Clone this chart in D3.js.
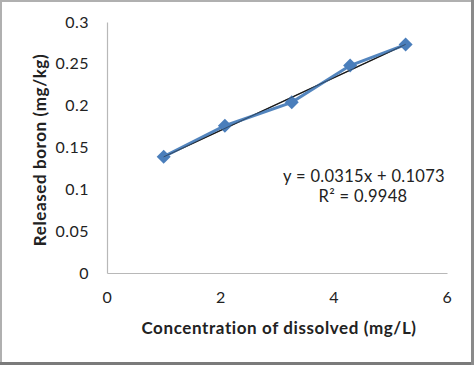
<!doctype html>
<html>
 <head>
  <meta charset='utf-8'>
  <title>Released boron</title>
  <script src='https://cdn.jsdelivr.net/npm/d3@7/dist/d3.min.js'></script>
  <style>
    html,body{margin:0;padding:0;background:#fff;}
    svg{display:block;}
    text{font-family:Lato,'Open Sans',sans-serif;fill:#222;}
  </style>
 </head>
 <body>
  <div id='chart'></div>
  <script>
    // data
    var concentration = [1.0, 2.08, 3.26, 4.29, 5.27]
    var boron         = [0.139, 0.176, 0.204, 0.248, 0.273]
    var xTicks        = [0, 2, 4, 6]
    var yTicks        = [0, 0.05, 0.1, 0.15, 0.2, 0.25, 0.3]
    var trend         = {slope:0.0315, intercept:0.1073, r2:'0.9948'}

    var W = 474, H = 365
    var svg = d3.select('#chart').append('svg')
        .attr('width',W).attr('height',H)

    // frame
    svg.append('rect').attr('x',1).attr('y',1).attr('width',W-2).attr('height',H-2)
       .attr('fill','#fff').attr('stroke','#b0b0b0').attr('stroke-width',2)
    svg.append('line').attr('x1',0).attr('x2',W).attr('y1',H-1.5).attr('y2',H-1.5)
       .attr('stroke','#7a7a7a').attr('stroke-width',3)
    svg.append('line').attr('x1',W-1.5).attr('x2',W-1.5).attr('y1',0).attr('y2',H)
       .attr('stroke','#8a8a8a').attr('stroke-width',3)

    var x = d3.scaleLinear().domain([0,6]).range([107,447])
    var y = d3.scaleLinear().domain([0,0.3]).range([273,22])

    // axes
    svg.append('g').attr('transform','translate(0,'+y(0)+')')
       .call(d3.axisBottom(x).tickValues(xTicks).tickSize(0).tickPadding(19).tickFormat(d3.format('d')))
    svg.append('g').attr('transform','translate('+x(0)+',0)')
       .call(d3.axisLeft(y).tickValues(yTicks).tickSize(0).tickPadding(18).tickFormat(function(d){ return String(+d.toFixed(2)) }))
    svg.selectAll('.domain').attr('stroke','#b8b8b8').attr('stroke-width',1.2)
    svg.selectAll('.tick text').style('font-size','16px').style('letter-spacing','0.5px')
       .style('font-family','Lato,sans-serif').attr('fill','#333')

    // trendline
    var xs = d3.extent(concentration)
    function trendLine(w,op){
      svg.append('line')
         .attr('x1',x(xs[0])).attr('y1',y(trend.slope*xs[0]+trend.intercept))
         .attr('x2',x(xs[1])).attr('y2',y(trend.slope*xs[1]+trend.intercept))
         .attr('stroke','#1a1a1a').attr('stroke-width',w).attr('opacity',op)
    }
    trendLine(1.3,1)

    // series
    var pts = concentration.map(function(c,i){ return [c,boron[i]] })
    svg.append('path').datum(pts)
       .attr('d',d3.line().x(function(d){ return x(d[0]) }).y(function(d){ return y(d[1]) }))
       .attr('fill','none').attr('stroke','#4a7ebb').attr('stroke-width',3).attr('opacity',0.95)

    svg.selectAll('.mark').data(pts).enter().append('path')
       .attr('class','mark')
       .attr('transform',function(d){ return 'translate('+x(d[0])+','+y(d[1])+')' })
       .attr('d',d3.symbol(d3.symbolDiamond2,125)())
       .attr('fill','#4a7ebb')

    // trendline shows through the series
    trendLine(0.9,0.55)

    // equation
    svg.append('text').attr('x',364).attr('y',182).attr('text-anchor','middle')
       .style('font-size','16.5px').style('letter-spacing','0.3px')
       .text('y = '+trend.slope+'x + '+trend.intercept)
    svg.append('text').attr('x',363).attr('y',202).attr('text-anchor','middle')
       .style('font-size','16.5px').style('letter-spacing','0.3px')
       .text('R² = '+trend.r2)

    // axis titles
    svg.append('text').attr('x',279).attr('y',334).attr('text-anchor','middle')
       .style('font-size','17px').style('font-weight','bold').style('letter-spacing','0.6px').attr('fill','#111')
       .text('Concentration of dissolved (mg/L)')
    svg.append('text').attr('transform','translate(46,150) rotate(-90)').attr('text-anchor','middle')
       .style('font-size','17px').style('font-weight','bold').style('letter-spacing','0.6px').attr('fill','#111')
       .text('Released boron (mg/kg)')
  </script>
 </body>
</html>
